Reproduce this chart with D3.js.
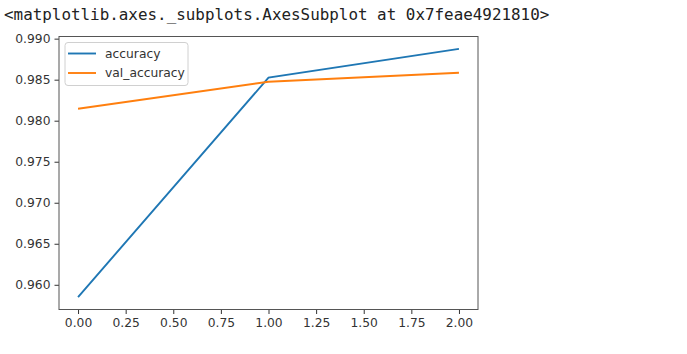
<!DOCTYPE html>
<html>
<head>
<meta charset="utf-8">
<script src="https://cdn.jsdelivr.net/npm/d3@7"></script>
<style>
	body { margin: 0; background: #fff; }
	svg { display: block; }
</style>
</head>
<body>
<script>
const epochs = [0, 1, 2];
const accuracy = [0.9585, 0.98525, 0.98875];
const valAccuracy = [0.98145, 0.98475, 0.98585];
const seriesNames = ["accuracy", "val_accuracy"];
const seriesColors = ["#1f77b4", "#ff7f0e"];
const xTicks = [0, 0.25, 0.5, 0.75, 1, 1.25, 1.5, 1.75, 2];
const yTicks = [0.960, 0.965, 0.970, 0.975, 0.980, 0.985, 0.990];

const width = 687;
const height = 354;
const plotLeft = 59, plotRight = 478, plotTop = 36.5, plotBottom = 309.5;

let svg = d3.select("body")
	.append("svg")
		.attr("width", width)
		.attr("height", height)

// repr line printed above the figure
svg.append("text")
	.attr("x", 4)
	.attr("y", 20)
	.attr("font-family", "DejaVu Sans Mono, monospace")
	.attr("font-size", "15.9px")
	.attr("fill", "#222")
	.text("<matplotlib.axes._subplots.AxesSubplot at 0x7feae4921810>")

// matplotlib style auto limits: 5% margin
let allY = accuracy.concat(valAccuracy);
let yMin = d3.min(allY), yMax = d3.max(allY);
let yPad = (yMax - yMin) * 0.05;

let x = d3.scaleLinear()
	.domain([-0.1, 2.1])
	.range([plotLeft, plotRight])

let y = d3.scaleLinear()
	.domain([yMin - yPad, yMax + yPad])
	.range([plotBottom, plotTop])

let xAxis = d3.axisBottom(x)
	.tickValues(xTicks)
	.tickSize(4.5)
	.tickPadding(4)
	.tickFormat(d3.format(".2f"))

let yAxis = d3.axisLeft(y)
	.tickValues(yTicks)
	.tickSize(4.5)
	.tickPadding(4)
	.tickFormat(d3.format(".3f"))

function styleAxis(g) {
	g.select(".domain").remove()
	g.selectAll(".tick line").attr("stroke", "#333").attr("stroke-width", 1)
	g.selectAll(".tick text")
		.attr("fill", "#333")
		.attr("font-family", "DejaVu Sans, sans-serif")
		.attr("font-size", "12.3px")
}

svg.append("g")
	.attr("transform", `translate(0,${plotBottom})`)
	.call(xAxis)
	.call(styleAxis)

svg.append("g")
	.attr("transform", `translate(${plotLeft},0)`)
	.call(yAxis)
	.call(styleAxis)

// lines
let line = d3.line()
	.x((d, i) => x(epochs[i]))
	.y((d) => y(d))

let series = [accuracy, valAccuracy];

svg.selectAll("path.series")
	.data(series)
	.enter()
	.append("path")
		.attr("class", "series")
		.attr("d", line)
		.attr("fill", "none")
		.attr("stroke", (d, i) => seriesColors[i])
		.attr("stroke-width", 1.9)

// frame
svg.append("rect")
	.attr("x", plotLeft)
	.attr("y", plotTop)
	.attr("width", plotRight - plotLeft)
	.attr("height", plotBottom - plotTop)
	.attr("fill", "none")
	.attr("stroke", "#555")
	.attr("stroke-width", 1)

// legend
let legend = svg.append("g")
	.attr("transform", `translate(${plotLeft + 6},${plotTop + 6})`)

legend.append("rect")
	.attr("width", 123)
	.attr("height", 43)
	.attr("rx", 3)
	.attr("fill", "#fff")
	.attr("fill-opacity", 0.8)
	.attr("stroke", "#d0d0d0")
	.attr("stroke-width", 1)

let items = legend.selectAll("g.item")
	.data(seriesNames)
	.enter()
	.append("g")
		.attr("class", "item")
		.attr("transform", (d, i) => `translate(0,${11 + i * 19.5})`)

items.append("line")
	.attr("x1", 3)
	.attr("x2", 31)
	.attr("stroke", (d, i) => seriesColors[i])
	.attr("stroke-width", 1.9)

items.append("text")
	.attr("x", 40)
	.attr("y", 4)
	.attr("font-family", "DejaVu Sans, sans-serif")
	.attr("font-size", "12.3px")
	.attr("fill", "#333")
	.text((d) => d)
</script>
</body>
</html>
